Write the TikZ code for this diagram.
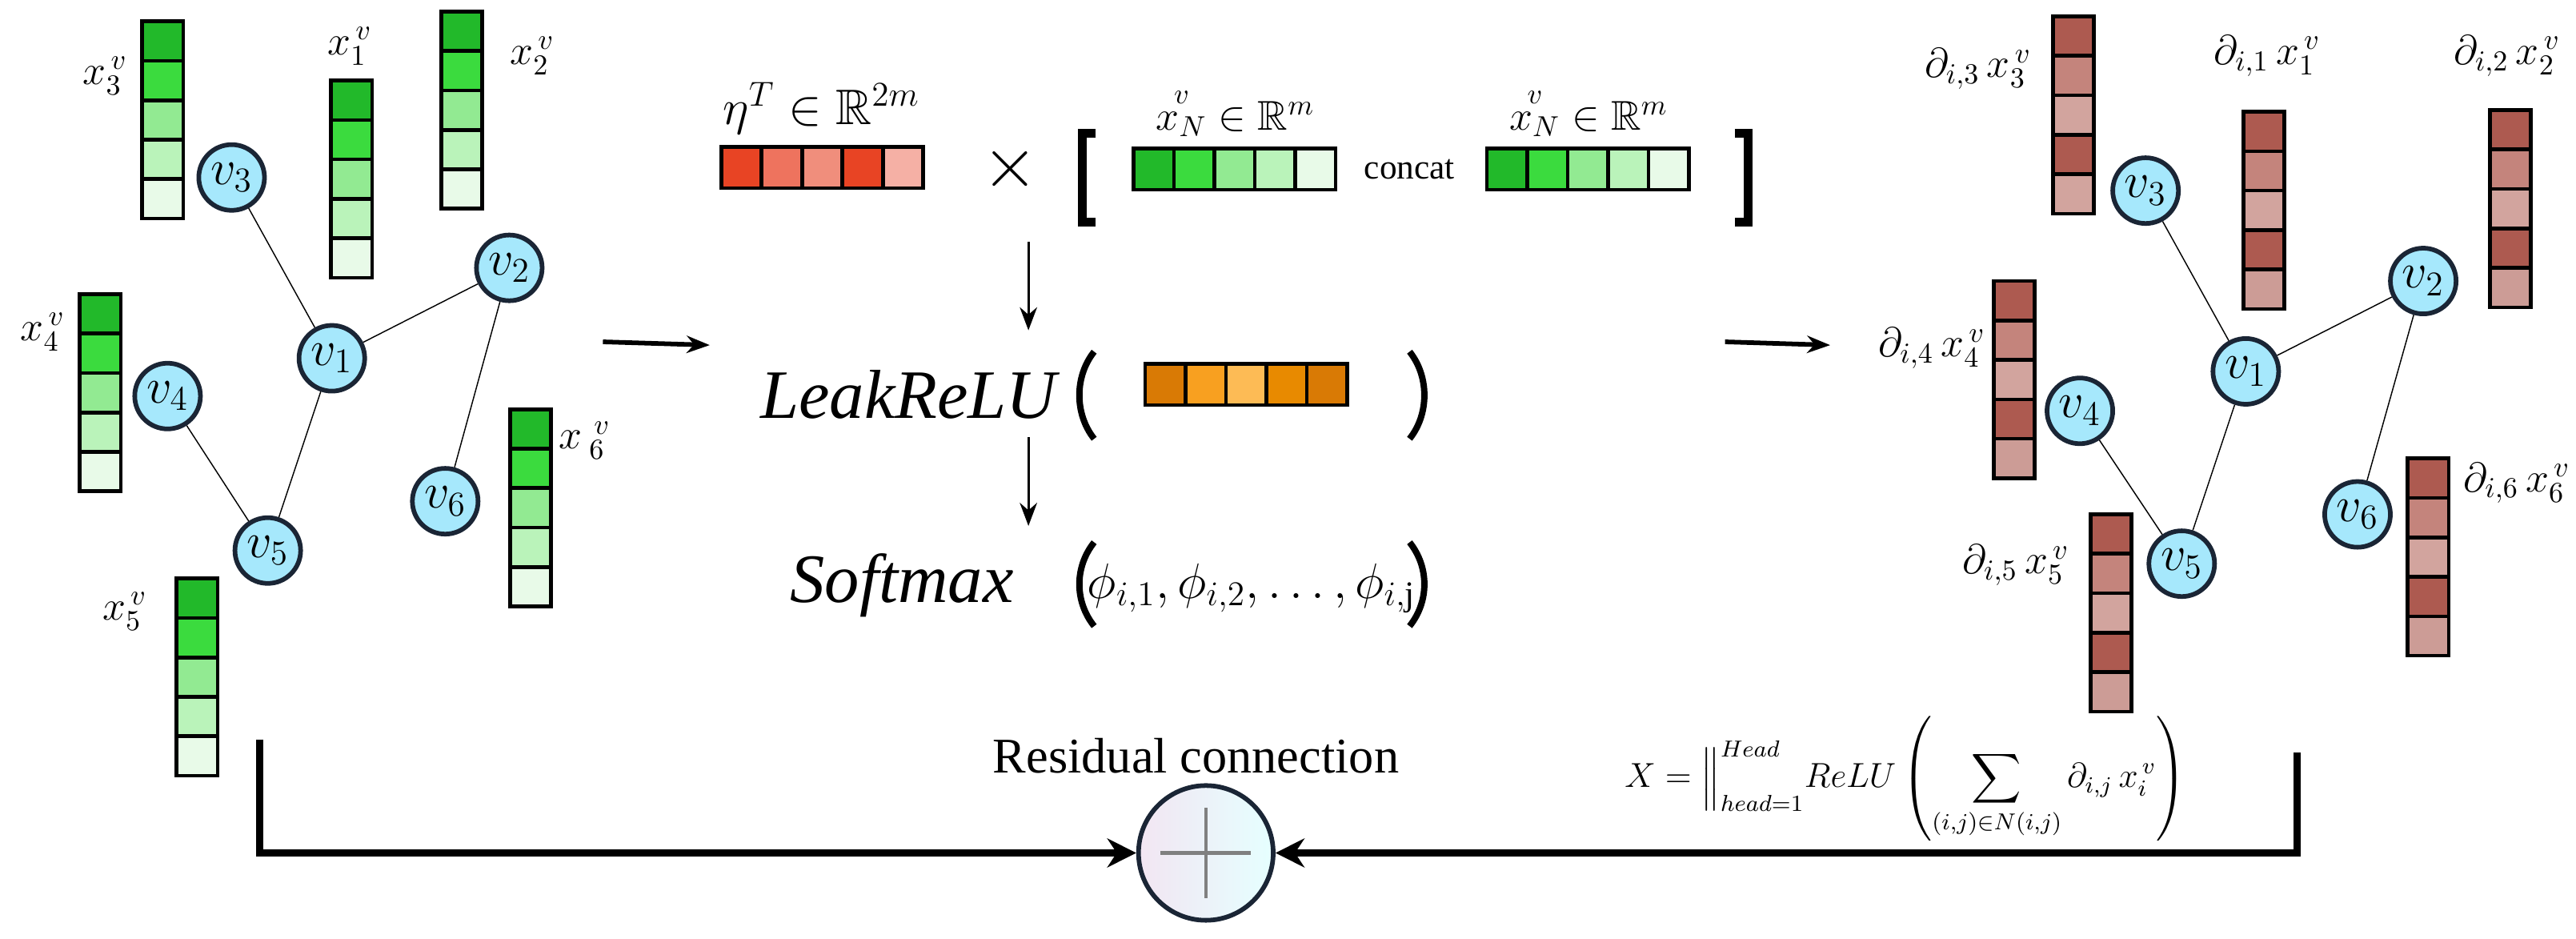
\documentclass[tikz,border=0pt]{standalone}
\usepackage{amsmath}
\usepackage{amssymb}
\usepackage{fontspec}
\setmainfont{Liberation Serif}
\usetikzlibrary{arrows.meta}

\definecolor{gA}{HTML}{22B92A}
\definecolor{gB}{HTML}{3BDB3E}
\definecolor{gC}{HTML}{92EA92}
\definecolor{gD}{HTML}{BAF3BA}
\definecolor{gE}{HTML}{E8FAE8}
\definecolor{rA}{HTML}{AD5A50}
\definecolor{rB}{HTML}{C4847C}
\definecolor{rC}{HTML}{D2A49E}
\definecolor{rD}{HTML}{CC9C96}
\definecolor{eA}{HTML}{E84424}
\definecolor{eB}{HTML}{EE735E}
\definecolor{eC}{HTML}{F08E7C}
\definecolor{eD}{HTML}{F5B0A5}
\definecolor{oA}{HTML}{D97A05}
\definecolor{oB}{HTML}{F8A020}
\definecolor{oC}{HTML}{FDBB55}
\definecolor{oD}{HTML}{E88A00}
\definecolor{nodefill}{HTML}{A6E8FC}
\definecolor{nodeline}{HTML}{1A2535}

% column of five cells: name, x, top y, colours
\newcommand{\vstack}[4]{%
  \foreach \c [count=\k from 0] in {#4}{%
    \node[vcell,fill=\c] (#1-\k) at (#2,#3+12+\k*24) {};}}
% row of five cells: name, left x, centre y, colours
\newcommand{\hstack}[4]{%
  \foreach \c [count=\k from 0] in {#4}{%
    \node[hcell,fill=\c] (#1-\k) at (#2+12.3+\k*24.6,#3) {};}}
% a pair of round brackets: left x, right x, top y, bottom y
\newcommand{\parens}[4]{%
  \draw[paren] (#1+8,#3) .. controls (#1-4,#3+15) and (#1-4,#4-15) .. (#1+8,#4);
  \draw[paren] (#2-8,#3) .. controls (#2+4,#3+15) and (#2+4,#4-15) .. (#2-8,#4);}

\begin{document}
\begin{tikzpicture}[x=0.02cm,y=-0.02cm,
    vcell/.style={draw,line width=1.3pt,minimum width=0.5cm,minimum height=0.48cm,inner sep=0},
    hcell/.style={draw,line width=1.3pt,minimum width=0.492cm,minimum height=0.5cm,inner sep=0},
    vtx/.style={circle,draw=nodeline,line width=1.6pt,fill=nodefill,minimum size=0.8cm,inner sep=0,font=\LARGE},
    lbl/.style={font=\Large,inner sep=0},
    big/.style={font=\fontsize{24}{28}\selectfont\itshape},
    paren/.style={line width=2.2pt},
    brk/.style={line width=3pt},
    flow/.style={-{Stealth[length=8pt,width=6pt]},line width=0.8pt},
    res/.style={-{Stealth[length=10pt,width=10pt]},line width=2.5pt}
  ]
  \useasboundingbox (0,0) rectangle (1568,571);

  % input graph
  \vstack{xa}{99}{13}{gA,gB,gC,gD,gE}
  \vstack{xb}{214}{49}{gA,gB,gC,gD,gE}
  \vstack{xc}{281}{7}{gA,gB,gC,gD,gE}
  \vstack{xd}{61}{179}{gA,gB,gC,gD,gE}
  \vstack{xe}{120}{352}{gA,gB,gC,gD,gE}
  \vstack{xf}{323}{249}{gA,gB,gC,gD,gE}
  \node[lbl] (lxa) at (64,46) {$x_3^{\,v}$};
  \node[lbl] (lxb) at (213,28) {$x_1^{\,v}$};
  \node[lbl] (lxc) at (324,34) {$x_2^{\,v}$};
  \node[lbl] (lxd) at (26,202) {$x_4^{\,v}$};
  \node[lbl] (lxf) at (356,268) {$x\,{}_6^{\,v}$};
  \node[lbl] (lxe) at (76,372) {$x_5^{\,v}$};

  \node[vtx] (a3) at (141,108) {$v_3$};
  \node[vtx] (a1) at (202,218) {$v_1$};
  \node[vtx] (a2) at (310,163) {$v_2$};
  \node[vtx] (a4) at (102,241) {$v_4$};
  \node[vtx] (a5) at (163,335) {$v_5$};
  \node[vtx] (a6) at (271,305) {$v_6$};
  \draw (a3) -- (a1) -- (a2) -- (a6);
  \draw (a1) -- (a5) -- (a4);

  % attention
  \coordinate (inL) at (367,208);
  \coordinate (inR) at (432,210);
  \draw[flow,line width=1.6pt] (inL) -- (inR);

  \hstack{eta}{439}{102}{eA,eB,eC,eA,eD}
  \node[font=\LARGE] (leta) at (500,66) {$\eta^{T}\in\mathbb{R}^{2m}$};
  \node[font=\fontsize{26}{28}\selectfont] (times) at (615,103) {$\times$};
  \draw[brk] (667,81) -- (659,81) -- (659,135) -- (667,135);
  \draw[brk] (1056,81) -- (1064,81) -- (1064,135) -- (1056,135);
  \hstack{xn}{690}{103}{gA,gB,gC,gD,gE}
  \node[font=\Large] (lxn) at (752,68) {$\overset{v}{x_N}\in\mathbb{R}^{m}$};
  \node[font=\large] (concat) at (858,103) {concat};
  \hstack{xm}{905}{103}{gA,gB,gC,gD,gE}
  \node[font=\Large] (lxm) at (967,68) {$\overset{v}{x_N}\in\mathbb{R}^{m}$};

  \node[big] (leak) at (553,240) {LeakReLU};
  \draw[flow] (626,147) -- (626,201);
  \parens{658}{866}{214}{267}
  \hstack{lr}{697}{234}{oA,oB,oC,oD,oA}
  \draw[flow] (626,266) -- (626,320);
  \node[big] (soft) at (549,356) {Softmax};
  \parens{658}{866}{330}{381}
  \node[font=\LARGE] (phi) at (762,358) {$\phi_{i,1},\phi_{i,2},\ldots,\phi_{i,\mathrm{j}}$};

  \coordinate (outL) at (1050,208);
  \coordinate (outR) at (1114,210);
  \draw[flow,line width=1.6pt] (outL) -- (outR);

  % weighted graph
  \vstack{ya}{1262}{10}{rA,rB,rC,rA,rC}
  \vstack{yb}{1378}{68}{rA,rB,rC,rA,rD}
  \vstack{yc}{1528}{67}{rA,rB,rC,rA,rD}
  \vstack{yd}{1226}{171}{rA,rB,rC,rA,rD}
  \vstack{ye}{1285}{313}{rA,rB,rC,rA,rD}
  \vstack{yf}{1478}{279}{rA,rB,rC,rA,rD}
  \node[lbl] (lya) at (1204,42) {$\partial_{i,3}\,x_3^{\,v}$};
  \node[lbl] (lyb) at (1380,34) {$\partial_{i,1}\,x_1^{\,v}$};
  \node[lbl] (lyc) at (1526,34) {$\partial_{i,2}\,x_2^{\,v}$};
  \node[lbl] (lyd) at (1176,212) {$\partial_{i,4}\,x_4^{\,v}$};
  \node[lbl] (lye) at (1227,344) {$\partial_{i,5}\,x_5^{\,v}$};
  \node[lbl] (lyf) at (1532,294) {$\partial_{i,6}\,x_6^{\,v}$};

  \node[vtx] (b3) at (1306,116) {$v_3$};
  \node[vtx] (b1) at (1367,226) {$v_1$};
  \node[vtx] (b2) at (1475,171) {$v_2$};
  \node[vtx] (b4) at (1266,250) {$v_4$};
  \node[vtx] (b5) at (1328,343) {$v_5$};
  \node[vtx] (b6) at (1435,313) {$v_6$};
  \draw (b3) -- (b1) -- (b2) -- (b6);
  \draw (b1) -- (b5) -- (b4);

  % residual
  \node[circle,draw=nodeline,line width=1.6pt,minimum size=1.64cm,
    left color=violet!10,right color=cyan!10] (plus) at (734,519) {};
  \draw[gray,line width=1.5pt] ([xshift=-0.55cm]plus.center) -- ([xshift=0.55cm]plus.center);
  \draw[gray,line width=1pt] ([yshift=-0.55cm]plus.center) -- ([yshift=0.55cm]plus.center);
  \node[font=\LARGE] (lres) at (728,460) {Residual connection};
  \coordinate (resL) at (158,450);
  \coordinate (resR) at (1398,458);
  \draw[res] (resL) |- (plus.west);
  \draw[res] (resR) |- (plus.east);
  \node[font=\large] (form) at (1160,474)
    {$X=\Big\Vert_{head=1}^{Head} ReLU\left(\displaystyle\sum_{(i,j)\in N(i,j)}\partial_{i,j}\,x_i^{\,v}\right)$};
\end{tikzpicture}
\end{document}
